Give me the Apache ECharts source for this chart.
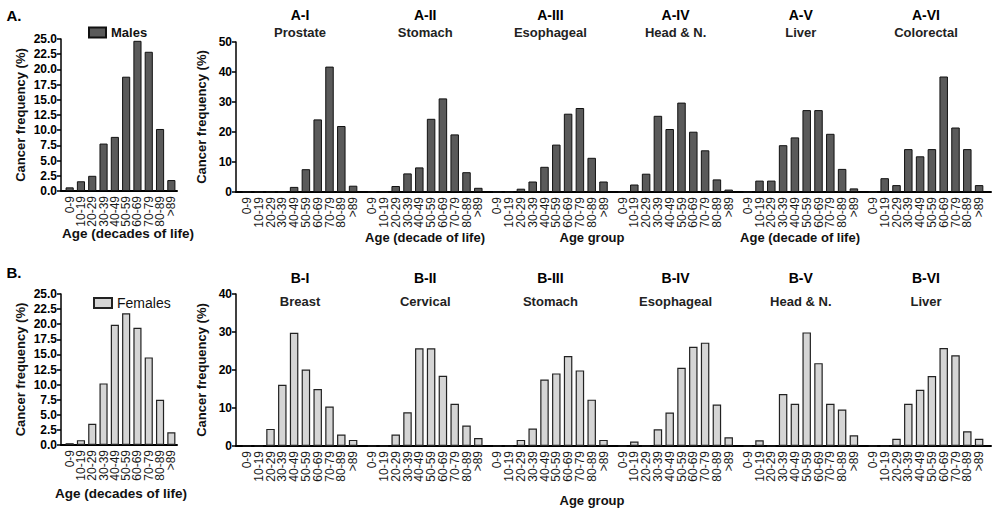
<!DOCTYPE html>
<html>
<head>
<meta charset="utf-8">
<script src="https://cdn.jsdelivr.net/npm/echarts@6/dist/echarts.min.js"></script>
<style>
html, body { margin: 0; background: #fff; }
#main { width: 1000px; height: 515px; }
</style>
</head>
<body>
<div id="main"></div>
<script>
// age groups (decades of life)
var ages = ['0-9', '10-19', '20-29', '30-39', '40-49', '50-59', '60-69', '70-79', '80-89', '>89'];

// overall frequency (%)
var males = [0.6, 1.6, 2.5, 7.8, 8.9, 18.8, 24.7, 22.9, 10.2, 1.8];
var females = [0.3, 0.8, 3.5, 10.2, 19.9, 21.8, 19.4, 14.5, 7.5, 2.1];

// males by site
var maleCodes = ['A-I', 'A-II', 'A-III', 'A-IV', 'A-V', 'A-VI'];
var maleSites = ['Prostate', 'Stomach', 'Esophageal', 'Head & N.', 'Liver', 'Colorectal'];
var mProstate = [0, 0, 0, 0, 1.7, 7.6, 24.2, 41.8, 22.0, 2.1];
var mStomach = [0, 0, 2.0, 6.2, 8.2, 24.4, 31.2, 19.2, 6.6, 1.4];
var mEsophageal = [0, 0, 1.1, 3.5, 8.4, 15.8, 26.1, 28.0, 11.4, 3.5];
var mHeadNeck = [0, 2.5, 6.1, 25.4, 21.0, 29.8, 20.1, 13.9, 4.2, 0.8];
var mLiver = [0, 3.8, 3.8, 15.6, 18.2, 27.3, 27.3, 19.4, 7.7, 1.2];
var mColorectal = [0, 4.6, 2.3, 14.3, 11.9, 14.3, 38.5, 21.5, 14.3, 2.3];

// females by site
var femaleCodes = ['B-I', 'B-II', 'B-III', 'B-IV', 'B-V', 'B-VI'];
var femaleSites = ['Breast', 'Cervical', 'Stomach', 'Esophageal', 'Head & N.', 'Liver'];
var fBreast = [0, 0, 4.5, 16.1, 29.8, 20.1, 15.0, 10.4, 3.0, 1.6];
var fCervical = [0, 0, 3.0, 8.9, 25.7, 25.7, 18.5, 11.1, 5.4, 2.1];
var fStomach = [0, 0, 1.6, 4.6, 17.5, 19.1, 23.7, 19.9, 12.2, 1.6];
var fEsophageal = [0, 1.2, 0, 4.4, 8.8, 20.6, 26.1, 27.2, 10.9, 2.3];
var fHeadNeck = [0, 1.5, 0, 13.7, 11.1, 29.9, 21.8, 11.1, 9.6, 2.8];
var fLiver = [0, 0, 1.9, 11.1, 14.8, 18.4, 25.8, 23.9, 3.9, 1.9];

var maleData = [mProstate, mStomach, mEsophageal, mHeadNeck, mLiver, mColorectal];
var femaleData = [fBreast, fCervical, fStomach, fEsophageal, fHeadNeck, fLiver];

var chart = echarts.init(document.getElementById('main'), null, { renderer: 'svg' });

var FONT = '"Liberation Sans", Arial, sans-serif';
var darkBar = { color: '#5a5a5a', borderColor: '#111', borderWidth: 1 };
var lightBar = { color: '#d5d5d5', borderColor: '#222', borderWidth: 1.2 };

var grids = [], xAxes = [], yAxes = [], series = [];

// axis frame: y axis with ticks + one continuous x axis line
function addFrame(left, top, width, height, max, interval, decimals, nameGap) {
    grids.push({ left: left, top: top, width: width, height: height });
    var gi = grids.length - 1;
    xAxes.push({
        gridIndex: gi, type: 'value', min: 0, max: 1,
        axisLine: { show: true, lineStyle: { color: '#000', width: 2 } },
        axisTick: { show: false }, axisLabel: { show: false }, splitLine: { show: false }
    });
    yAxes.push({
        gridIndex: gi, type: 'value', min: 0, max: max, interval: interval,
        name: 'Cancer frequency (%)', nameLocation: 'middle', nameRotate: 90, nameGap: nameGap,
        nameTextStyle: { fontFamily: FONT, fontWeight: 'bold', fontSize: 13, color: '#111' },
        axisLine: { show: true, lineStyle: { color: '#000', width: 1.5 } },
        axisTick: { show: true, length: 4, lineStyle: { color: '#000', width: 1.5 } },
        axisLabel: {
            fontFamily: FONT, fontWeight: 'bold', fontSize: 12, color: '#000', margin: 4,
            formatter: function (v) { return v.toFixed(decimals); }
        },
        splitLine: { show: false }
    });
}

// bars of one panel
function addBars(left, top, width, height, max, values, style, name) {
    grids.push({ left: left, top: top, width: width, height: height });
    var gi = grids.length - 1;
    xAxes.push({
        gridIndex: gi, type: 'category', data: ages,
        axisLine: { show: false }, axisTick: { show: false },
        axisLabel: { interval: 0, rotate: 90, margin: 5, fontFamily: FONT, fontSize: 12, color: '#1a1a1a' }
    });
    yAxes.push({ gridIndex: gi, type: 'value', min: 0, max: max, show: false });
    series.push({
        name: name, type: 'bar', xAxisIndex: gi, yAxisIndex: gi,
        data: values, barWidth: '72%', itemStyle: style, silent: true
    });
}

// overall panels
addFrame(61, 39, 116, 152, 25, 2.5, 1, 34);
addBars(64, 39, 113, 152, 25, males, darkBar, 'Males');
addFrame(61, 294, 116, 151, 25, 2.5, 1, 34);
addBars(64, 294, 113, 151, 25, females, lightBar, 'Females');

// site panels
var groupLeft = 241, groupStep = 125.2, groupWidth = 118;
addFrame(236, 42, 755, 150, 50, 10, 0, 22);
addFrame(236, 294, 755, 152, 40, 10, 0, 22);
var graphics = [];
function txt(s, x, y, size, weight, color) {
    graphics.push({
        type: 'text', x: x, y: y,
        style: {
            text: s, font: weight + ' ' + size + 'px ' + FONT, fill: color || '#000',
            align: 'center', verticalAlign: 'middle', textAlign: 'center', textVerticalAlign: 'middle'
        }
    });
}
for (var k = 0; k < 6; k++) {
    var gl = groupLeft + k * groupStep;
    addBars(gl, 42, groupWidth, 150, 50, maleData[k], darkBar, maleSites[k]);
    addBars(gl, 294, groupWidth, 152, 40, femaleData[k], lightBar, femaleSites[k]);
    var cx = gl + groupWidth / 2;
    txt(maleCodes[k], cx, 15, 14, 'bold');
    txt(maleSites[k], cx, 32, 13, 'bold', '#222');
    txt(femaleCodes[k], cx, 278, 14, 'bold');
    txt(femaleSites[k], cx, 301, 13, 'bold', '#222');
}

txt('A.', 14, 15, 15, 'bold');
txt('B.', 14, 272, 15, 'bold');
txt('Age (decades of life)', 128, 233, 13.5, 'bold', '#111');
txt('Age (decades of life)', 121, 493, 13.5, 'bold', '#111');
txt('Age (decade of life)', 425, 237, 13, 'bold', '#111');
txt('Age group', 592, 237, 13, 'bold', '#111');
txt('Age (decade of life)', 800, 237, 13, 'bold', '#111');
txt('Age group', 592, 500, 13, 'bold', '#111');

var option = {
    backgroundColor: '#fff',
    animation: false,
    grid: grids,
    xAxis: xAxes,
    yAxis: yAxes,
    legend: [
        {
            data: ['Males'], left: 83, top: 21, itemWidth: 17, itemHeight: 10, icon: 'rect',
            textStyle: { fontFamily: FONT, fontWeight: 'bold', fontSize: 13, color: '#111' }, selectedMode: false
        },
        {
            data: ['Females'], left: 88, top: 291, itemWidth: 18, itemHeight: 10, icon: 'rect',
            textStyle: { fontFamily: FONT, fontWeight: 'normal', fontSize: 14, color: '#111' }, selectedMode: false
        }
    ],
    graphic: graphics,
    series: series
};

chart.setOption(option);
</script>
</body>
</html>
